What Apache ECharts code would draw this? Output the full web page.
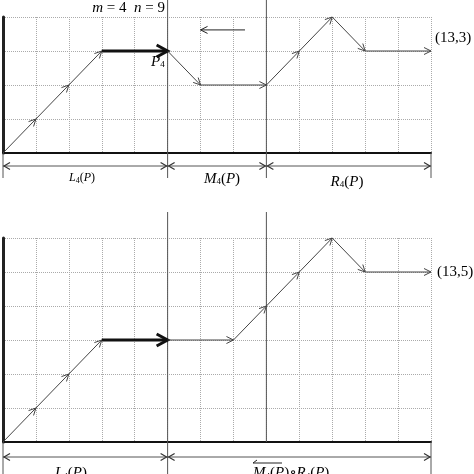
<!DOCTYPE html>
<html>
<head>
  <meta charset="UTF-8">
  <title></title>
  <script src="https://cdn.jsdelivr.net/npm/echarts@6/dist/echarts.min.js"></script>
  <style>
    html, body {
      margin: 0;
      padding: 0;
      background: #fff;
    }

    #chart {
      width: 474px;
      height: 474px;
    }
  </style>
</head>

<body>
  <div id="chart"></div>
  <script>
    // lattice paths (x, y) for the two panels
    const topPath = [[0, 0], [1, 1], [2, 2], [3, 3], [5, 3], [6, 2], [8, 2], [9, 3], [10, 4], [11, 3], [13, 3]]
    const bottomPath = [[0, 0], [1, 1], [2, 2], [3, 3], [5, 3], [7, 3], [8, 4], [9, 5], [10, 6], [11, 5], [13, 5]]
    const thickStep = 3
    const topSplits = [5, 8]
    const bottomSplits = [5, 8]
    const topBrackets = [[0, 5], [5, 8], [8, 13]]
    const bottomBrackets = [[0, 5], [5, 13]]
    const hintArrow = [[7.35, 3.62, 6.0, 3.62]]
    const xMax = 13
    const topYMax = 4
    const bottomYMax = 6

    const serif = '"Liberation Serif", "DejaVu Serif", serif'

    function toSteps(path) {
      const out = []
      for (let i = 1; i < path.length; i++) {
        out.push([path[i - 1][0], path[i - 1][1], path[i][0], path[i][1], i - 1 === thickStep ? 1 : 0])
      }
      return out
    }

    function head(p0, p1, len, wid) {
      const a = Math.atan2(p1[1] - p0[1], p1[0] - p0[0])
      const c = Math.cos(a), s = Math.sin(a)
      const bx = p1[0] - len * c, by = p1[1] - len * s
      return [[bx - wid * s, by + wid * c], [p1[0], p1[1]], [bx + wid * s, by - wid * c]]
    }

    function arrowShape(p0, p1, thick, color) {
      const lw = thick ? 3 : 1
      return [
        { type: 'line', shape: { x1: p0[0], y1: p0[1], x2: p1[0], y2: p1[1] }, style: { stroke: color, lineWidth: lw } },
        { type: 'polyline', shape: { points: head(p0, p1, thick ? 11 : 7, thick ? 6 : 3.5) }, style: { stroke: color, fill: null, lineWidth: lw } }
      ]
    }

    function renderStep(params, api) {
      const p0 = api.coord([api.value(0), api.value(1)])
      const p1 = api.coord([api.value(2), api.value(3)])
      const thick = api.value(4)
      return { type: 'group', children: arrowShape(p0, p1, thick, thick ? '#111' : '#444') }
    }

    // vertical separators, brackets with double heads and end ticks
    function guides(splits, brackets, yMax, cfg) {
      return function (params, api) {
        if (params.dataIndex > 0) return
        const kids = []
        const st = { stroke: '#555', lineWidth: 1 }
        splits.forEach((x, i) => {
          const t = api.coord([x, yMax]), b = api.coord([x, 0])
          kids.push({ type: 'line', shape: { x1: t[0], y1: t[1] - cfg.up, x2: b[0], y2: b[1] + cfg.down[i] }, style: st })
        })
        ;[0, xMax].forEach(x => {
          const b = api.coord([x, 0])
          kids.push({ type: 'line', shape: { x1: b[0], y1: b[1], x2: b[0], y2: b[1] + cfg.tick }, style: st })
        })
        brackets.forEach(br => {
          const a = api.coord([br[0], 0]), b = api.coord([br[1], 0])
          const y = a[1] + cfg.gap
          kids.push({ type: 'line', shape: { x1: a[0], y1: y, x2: b[0], y2: y }, style: st })
          kids.push({ type: 'polyline', shape: { points: head([a[0] + 10, y], [a[0] + 1, y], 6, 3.5) }, style: { stroke: '#333', fill: null, lineWidth: 1.2 } })
          kids.push({ type: 'polyline', shape: { points: head([b[0] - 10, y], [b[0] - 1, y], 6, 3.5) }, style: { stroke: '#333', fill: null, lineWidth: 1.2 } })
        })
        return { type: 'group', children: kids }
      }
    }

    function renderHint(params, api) {
      const p0 = api.coord([api.value(0), api.value(1)])
      const p1 = api.coord([api.value(2), api.value(3)])
      return { type: 'group', children: arrowShape(p0, p1, 0, '#222') }
    }

    const rich = {
      i: { fontFamily: serif, fontStyle: 'italic', fontSize: 15, color: '#222' },
      r: { fontFamily: serif, fontSize: 15, color: '#222' },
      s: { fontFamily: serif, fontSize: 9, color: '#222', padding: [6, 0, 0, 0] },
      si: { fontFamily: serif, fontStyle: 'italic', fontSize: 12, color: '#222' },
      sr: { fontFamily: serif, fontSize: 12, color: '#222' },
      ss: { fontFamily: serif, fontSize: 8, color: '#222', padding: [5, 0, 0, 0] }
    }

    function label(x, y, text, align, va) {
      return { type: 'text', x: x, y: y, style: { text: text, rich: rich, align: align || 'center', verticalAlign: va || 'middle' } }
    }

    const xAxisBase = {
      type: 'value', min: 0, max: xMax, interval: 1,
      axisLabel: { show: false }, axisTick: { show: false },
      axisLine: { show: true, onZero: false, lineStyle: { color: '#111', width: 2 } },
      splitLine: { show: true, lineStyle: { color: '#aaa', type: 'dotted', width: 1 } }
    }
    const yAxisBase = {
      type: 'value', min: 0, interval: 1,
      axisLabel: { show: false }, axisTick: { show: false },
      axisLine: { show: true, onZero: false, lineStyle: { color: '#222', width: 3 } },
      splitLine: { show: true, lineStyle: { color: '#aaa', type: 'dotted', width: 1 } }
    }

    const myChart = echarts.init(document.querySelector('#chart'), null, { renderer: 'canvas' })
    const option = {
      animation: false,
      backgroundColor: '#fff',
      grid: [
        { left: 3, top: 17, width: 428, height: 136 },
        { left: 3, top: 238, width: 428, height: 204 }
      ],
      xAxis: [
        Object.assign({}, xAxisBase, { gridIndex: 0 }),
        Object.assign({}, xAxisBase, { gridIndex: 1 })
      ],
      yAxis: [
        Object.assign({}, yAxisBase, { gridIndex: 0, max: topYMax }),
        Object.assign({}, yAxisBase, { gridIndex: 1, max: bottomYMax })
      ],
      series: [
        {
          type: 'custom', xAxisIndex: 0, yAxisIndex: 0, clip: false, z: 3,
          renderItem: guides(topSplits, topBrackets, topYMax, { up: 17, down: [25, 25], tick: 25, gap: 13 }),
          data: [[0, 0]]
        },
        {
          type: 'custom', xAxisIndex: 1, yAxisIndex: 1, clip: false, z: 3,
          renderItem: guides(bottomSplits, bottomBrackets, bottomYMax, { up: 26, down: [32, 0], tick: 32, gap: 15 }),
          data: [[0, 0]]
        },
        {
          type: 'custom', xAxisIndex: 0, yAxisIndex: 0, clip: false, z: 4,
          renderItem: renderStep,
          encode: { x: [0, 2], y: [1, 3] },
          data: toSteps(topPath)
        },
        {
          type: 'custom', xAxisIndex: 1, yAxisIndex: 1, clip: false, z: 4,
          renderItem: renderStep,
          encode: { x: [0, 2], y: [1, 3] },
          data: toSteps(bottomPath)
        },
        {
          type: 'custom', xAxisIndex: 0, yAxisIndex: 0, clip: false, z: 4,
          renderItem: renderHint,
          encode: { x: [0, 2], y: [1, 3] },
          data: hintArrow
        }
      ],
      graphic: [
        label(165, 8, '{i|m}{r| = 4  }{i|n}{r| = 9}', 'right'),
        label(151, 62, '{i|P}{s|4}', 'left'),
        label(435, 38, '{r|(13,3)}', 'left'),
        label(437, 272, '{r|(13,5)}', 'left'),
        label(82, 178, '{si|L}{ss|4}{sr|(}{si|P}{sr|)}'),
        label(222, 179, '{i|M}{s|4}{r|(}{i|P}{r|)}'),
        label(347, 182, '{i|R}{s|4}{r|(}{i|P}{r|)}'),
        label(55, 466, '{i|L}{s|4}{r|(}{i|P}{r|)}', 'left', 'top'),
        label(253, 466, '{i|M}{s|4}{r|(}{i|P}{r|)∘}{i|R}{s|4}{r|(}{i|P}{r|)}', 'left', 'top'),
        { type: 'line', shape: { x1: 253, y1: 463, x2: 282, y2: 463 }, style: { stroke: '#222', lineWidth: 1 } },
        { type: 'line', shape: { x1: 253, y1: 463, x2: 257, y2: 460 }, style: { stroke: '#222', lineWidth: 1 } }
      ]
    }
    myChart.setOption(option)
  </script>
</body>

</html>
